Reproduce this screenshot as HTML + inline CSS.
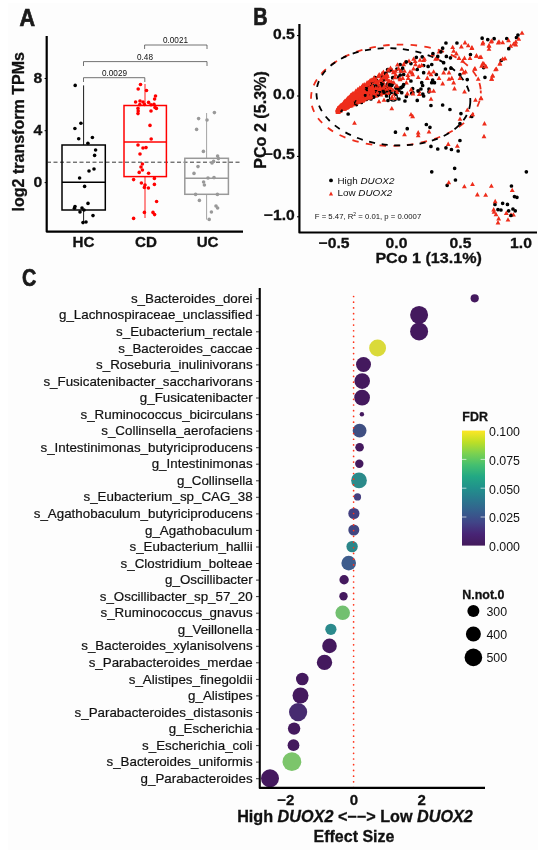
<!DOCTYPE html>
<html><head><meta charset="utf-8"><title>Figure</title>
<style>
html,body{margin:0;padding:0;background:#fff}
svg{display:block}
text{font-family:"Liberation Sans",Arial,Helvetica,sans-serif;fill:#111}
.lbl{fill:#1a1a1a;stroke:#1a1a1a;stroke-width:0.7px}
.tk{font-weight:bold;font-size:15.6px;fill:#111;stroke:#111;stroke-width:0.3px}
.sm{fill:#111}
.rw{font-size:13.35px;fill:#111;stroke:#111;stroke-width:0.2px}
</style></head><body>
<svg width="550" height="850" viewBox="0 0 550 850">
<rect width="550" height="850" fill="#fff"/>
<rect x="8" y="3" width="530" height="847" fill="#fdfdfd"/>
<g id="panelA">
<text x="19.4" y="25.6" style="font-size:23.5px" font-weight="bold" class="lbl" textLength="15.6" lengthAdjust="spacingAndGlyphs">A</text>
<path d="M46.7 36V231.6H243" fill="none" stroke="#000" stroke-width="2.2" stroke-linejoin="round"/>
<path d="M44.6 78.5H47" stroke="#000" stroke-width="1"/>
<text transform="translate(42.2 82.5) scale(1.07 1)" text-anchor="end" class="tk" style="font-size:14.7px">8</text>
<path d="M44.6 130.7H47" stroke="#000" stroke-width="1"/>
<text transform="translate(42.2 134.7) scale(1.07 1)" text-anchor="end" class="tk" style="font-size:14.7px">4</text>
<path d="M44.6 182.6H47" stroke="#000" stroke-width="1"/>
<text transform="translate(42.2 186.6) scale(1.07 1)" text-anchor="end" class="tk" style="font-size:14.7px">0</text>
<text transform="translate(24.1 131.8) rotate(-90)" text-anchor="middle" class="tk" style="font-size:16.05px">log2 transform TPMs</text>
<text transform="translate(83.5 247) scale(1.04 1)" text-anchor="middle" class="tk" style="font-size:14.6px">HC</text>
<text transform="translate(146 247) scale(1.04 1)" text-anchor="middle" class="tk" style="font-size:14.6px">CD</text>
<text transform="translate(207.6 247) scale(1.04 1)" text-anchor="middle" class="tk" style="font-size:14.6px">UC</text>
<path d="M47 162.2H241.5" stroke="#222" stroke-width="0.9" stroke-dasharray="4 2.5"/>
<path d="M83.6 85.4V145M83.6 210V222.5" stroke="#000" stroke-width="0.9" fill="none"/>
<rect x="62" y="145" width="43.3" height="65.0" fill="none" stroke="#000" stroke-width="1.5"/>
<path d="M62 182.3H105.3" stroke="#000" stroke-width="1.5"/>
<path d="M145 84V105.5M145 176.6V218" stroke="#f00" stroke-width="0.9" fill="none"/>
<rect x="124" y="105.5" width="42.4" height="71.1" fill="none" stroke="#f00" stroke-width="1.5"/>
<path d="M124 142H166.4" stroke="#f00" stroke-width="1.5"/>
<path d="M206.6 113V158.3M206.6 194.3V219.6" stroke="#999" stroke-width="0.9" fill="none"/>
<rect x="184.8" y="158.3" width="43.6" height="36.0" fill="none" stroke="#999" stroke-width="1.5"/>
<path d="M184.8 178.2H228.4" stroke="#999" stroke-width="1.5"/>
<g fill="none" stroke="#444" stroke-width="0.75">
<path d="M144.6 49V45H207V49"/>
<path d="M83.5 66V61.6H207V66"/>
<path d="M83.5 82V77.7H144.8V82"/>
</g>
<text x="175.5" y="42.8" text-anchor="middle" class="sm" style="font-size:8.2px">0.0021</text>
<text x="145" y="59.6" text-anchor="middle" class="sm" style="font-size:8.2px">0.48</text>
<text x="114.5" y="76" text-anchor="middle" class="sm" style="font-size:8.2px">0.0029</text>
<g fill="#000"><circle cx="75.2" cy="85.4" r="1.8"/><circle cx="80.9" cy="123.2" r="1.8"/><circle cx="74.9" cy="128.5" r="1.8"/><circle cx="78.7" cy="138.8" r="1.8"/><circle cx="92.4" cy="137.5" r="1.8"/><circle cx="87.9" cy="143.2" r="1.8"/><circle cx="95.6" cy="150" r="1.8"/><circle cx="94.6" cy="155.4" r="1.8"/><circle cx="94" cy="169" r="1.8"/><circle cx="89" cy="171" r="1.8"/><circle cx="79.6" cy="178" r="1.8"/><circle cx="84.6" cy="186.4" r="1.8"/><circle cx="88" cy="203.4" r="1.8"/><circle cx="75" cy="206.6" r="1.8"/><circle cx="74.4" cy="208.2" r="1.8"/><circle cx="82" cy="208" r="1.8"/><circle cx="80" cy="212" r="1.8"/><circle cx="84" cy="210" r="1.8"/><circle cx="93" cy="215.6" r="1.8"/><circle cx="83" cy="222.6" r="1.8"/><circle cx="86" cy="222" r="1.8"/></g>
<g fill="#f00"><circle cx="135.6" cy="102" r="1.8"/><circle cx="140" cy="101" r="1.8"/><circle cx="143" cy="102" r="1.8"/><circle cx="148.6" cy="102.4" r="1.8"/><circle cx="154" cy="104.4" r="1.8"/><circle cx="156.4" cy="108.4" r="1.8"/><circle cx="151" cy="111" r="1.8"/><circle cx="138" cy="108.4" r="1.8"/><circle cx="138" cy="113.6" r="1.8"/><circle cx="150" cy="125.4" r="1.8"/><circle cx="151.2" cy="139" r="1.8"/><circle cx="138" cy="145" r="1.8"/><circle cx="143" cy="148" r="1.8"/><circle cx="146" cy="147.6" r="1.8"/><circle cx="140" cy="154" r="1.8"/><circle cx="142.4" cy="164" r="1.8"/><circle cx="141" cy="167" r="1.8"/><circle cx="142.4" cy="170" r="1.8"/><circle cx="139.2" cy="172.4" r="1.8"/><circle cx="148.6" cy="173.2" r="1.8"/><circle cx="133.6" cy="179.6" r="1.8"/><circle cx="141.4" cy="183" r="1.8"/><circle cx="145" cy="185" r="1.8"/><circle cx="144.4" cy="187.4" r="1.8"/><circle cx="148.4" cy="188" r="1.8"/><circle cx="154.4" cy="178.4" r="1.8"/><circle cx="154.4" cy="184.4" r="1.8"/><circle cx="156.6" cy="201.5" r="1.8"/><circle cx="133.6" cy="218.4" r="1.8"/><circle cx="144.4" cy="212.4" r="1.8"/><circle cx="153" cy="212.4" r="1.8"/><circle cx="154.6" cy="214.6" r="1.8"/><circle cx="140.5" cy="84.5" r="1.8"/><circle cx="138.2" cy="89" r="1.8"/><circle cx="146.5" cy="90.5" r="1.8"/><circle cx="155.5" cy="96" r="1.8"/><circle cx="154.6" cy="99" r="1.8"/><circle cx="139.8" cy="104.6" r="1.8"/><circle cx="144.5" cy="104.5" r="1.8"/><circle cx="151" cy="104.8" r="1.8"/><circle cx="155" cy="107.5" r="1.8"/><circle cx="138.2" cy="111" r="1.8"/></g>
<g fill="#999"><circle cx="214.4" cy="112.6" r="1.8"/><circle cx="198.6" cy="118.6" r="1.8"/><circle cx="207" cy="120" r="1.8"/><circle cx="196.6" cy="129.4" r="1.8"/><circle cx="203.4" cy="151.4" r="1.8"/><circle cx="217.6" cy="156" r="1.8"/><circle cx="218.4" cy="158.6" r="1.8"/><circle cx="213.6" cy="161.4" r="1.8"/><circle cx="212" cy="163" r="1.8"/><circle cx="198" cy="166.6" r="1.8"/><circle cx="194" cy="173.4" r="1.8"/><circle cx="208" cy="178" r="1.8"/><circle cx="214" cy="177.6" r="1.8"/><circle cx="203.6" cy="182" r="1.8"/><circle cx="204.4" cy="185" r="1.8"/><circle cx="195.6" cy="194.4" r="1.8"/><circle cx="217.4" cy="194.4" r="1.8"/><circle cx="199.4" cy="200.4" r="1.8"/><circle cx="216" cy="206" r="1.8"/><circle cx="217.6" cy="208" r="1.8"/><circle cx="211.4" cy="212" r="1.8"/><circle cx="209.2" cy="219.4" r="1.8"/></g>
</g>
<g id="panelB">
<text x="253.2" y="24.5" style="font-size:23.5px" font-weight="bold" class="lbl" textLength="14.4" lengthAdjust="spacingAndGlyphs">B</text>
<path d="M299.4 24V232.5H537" fill="none" stroke="#000" stroke-width="2.2" stroke-linejoin="round"/>
<path d="M297 35.6H299.5" stroke="#000" stroke-width="1"/>
<text transform="translate(294.8 38.6) scale(1.07 1)" text-anchor="end" class="tk" style="font-size:14.7px">0.5</text>
<path d="M297 96H299.5" stroke="#000" stroke-width="1"/>
<text transform="translate(294.8 99.0) scale(1.07 1)" text-anchor="end" class="tk" style="font-size:14.7px">0.0</text>
<path d="M297 156.4H299.5" stroke="#000" stroke-width="1"/>
<text transform="translate(294.8 159.4) scale(1.07 1)" text-anchor="end" class="tk" style="font-size:14.7px">−0.5</text>
<path d="M297 216.8H299.5" stroke="#000" stroke-width="1"/>
<text transform="translate(294.8 219.8) scale(1.07 1)" text-anchor="end" class="tk" style="font-size:14.7px">−1.0</text>
<text transform="translate(334.0 247.6) scale(1.07 1)" text-anchor="middle" class="tk" style="font-size:14.7px">−0.5</text>
<text transform="translate(396.5 247.6) scale(1.07 1)" text-anchor="middle" class="tk" style="font-size:14.7px">0.0</text>
<text transform="translate(460.5 247.6) scale(1.07 1)" text-anchor="middle" class="tk" style="font-size:14.7px">0.5</text>
<text transform="translate(521.0 247.6) scale(1.07 1)" text-anchor="middle" class="tk" style="font-size:14.7px">1.0</text>
<text transform="translate(428.6 263.4) scale(1.05 1)" text-anchor="middle" class="tk" style="font-size:15.35px">PCo 1 (13.1%)</text>
<text transform="translate(266.3 120) rotate(-90)" text-anchor="middle" class="tk" style="font-size:16.1px">PCo 2 (5.3%)</text>
<ellipse cx="395.9" cy="95.2" rx="85.0" ry="50.5" transform="rotate(-3.2 395.9 95.2)" fill="none" stroke="#ee2d1b" stroke-width="1.8" stroke-dasharray="6.5 7.3" stroke-dashoffset="3.5"/>
<ellipse cx="393.4" cy="96.8" rx="77.1" ry="48.4" transform="rotate(4.6 393.4 96.8)" fill="none" stroke="#000" stroke-width="1.8" stroke-dasharray="6.1 6.6" stroke-dashoffset="0"/>
<path fill="#000" d="M372.4 92.8a1.85 1.85 0 1 0 3.7 0a1.85 1.85 0 1 0 -3.7 0ZM368.3 86.7a1.85 1.85 0 1 0 3.7 0a1.85 1.85 0 1 0 -3.7 0ZM492.3 38.7a1.85 1.85 0 1 0 3.7 0a1.85 1.85 0 1 0 -3.7 0ZM444.5 56.4a1.85 1.85 0 1 0 3.7 0a1.85 1.85 0 1 0 -3.7 0ZM360.8 97.6a1.85 1.85 0 1 0 3.7 0a1.85 1.85 0 1 0 -3.7 0ZM458.1 140.5a1.85 1.85 0 1 0 3.7 0a1.85 1.85 0 1 0 -3.7 0ZM399.1 87.7a1.85 1.85 0 1 0 3.7 0a1.85 1.85 0 1 0 -3.7 0ZM452.8 168.3a1.85 1.85 0 1 0 3.7 0a1.85 1.85 0 1 0 -3.7 0ZM369.1 99.0a1.85 1.85 0 1 0 3.7 0a1.85 1.85 0 1 0 -3.7 0ZM445.3 185.3a1.85 1.85 0 1 0 3.7 0a1.85 1.85 0 1 0 -3.7 0ZM429.9 82.7a1.85 1.85 0 1 0 3.7 0a1.85 1.85 0 1 0 -3.7 0ZM371.1 93.1a1.85 1.85 0 1 0 3.7 0a1.85 1.85 0 1 0 -3.7 0ZM370.3 82.5a1.85 1.85 0 1 0 3.7 0a1.85 1.85 0 1 0 -3.7 0ZM506.8 210.8a1.85 1.85 0 1 0 3.7 0a1.85 1.85 0 1 0 -3.7 0ZM359.6 102.5a1.85 1.85 0 1 0 3.7 0a1.85 1.85 0 1 0 -3.7 0ZM363.4 87.6a1.85 1.85 0 1 0 3.7 0a1.85 1.85 0 1 0 -3.7 0ZM426.3 66.4a1.85 1.85 0 1 0 3.7 0a1.85 1.85 0 1 0 -3.7 0ZM429.1 105.5a1.85 1.85 0 1 0 3.7 0a1.85 1.85 0 1 0 -3.7 0ZM468.6 54.5a1.85 1.85 0 1 0 3.7 0a1.85 1.85 0 1 0 -3.7 0ZM499.4 60.4a1.85 1.85 0 1 0 3.7 0a1.85 1.85 0 1 0 -3.7 0ZM458.1 74.5a1.85 1.85 0 1 0 3.7 0a1.85 1.85 0 1 0 -3.7 0ZM396.6 77.0a1.85 1.85 0 1 0 3.7 0a1.85 1.85 0 1 0 -3.7 0ZM421.8 72.7a1.85 1.85 0 1 0 3.7 0a1.85 1.85 0 1 0 -3.7 0ZM441.8 62.7a1.85 1.85 0 1 0 3.7 0a1.85 1.85 0 1 0 -3.7 0ZM411.0 92.6a1.85 1.85 0 1 0 3.7 0a1.85 1.85 0 1 0 -3.7 0ZM361.1 87.9a1.85 1.85 0 1 0 3.7 0a1.85 1.85 0 1 0 -3.7 0ZM424.5 124.5a1.85 1.85 0 1 0 3.7 0a1.85 1.85 0 1 0 -3.7 0ZM364.6 99.5a1.85 1.85 0 1 0 3.7 0a1.85 1.85 0 1 0 -3.7 0ZM364.5 96.0a1.85 1.85 0 1 0 3.7 0a1.85 1.85 0 1 0 -3.7 0ZM427.1 91.8a1.85 1.85 0 1 0 3.7 0a1.85 1.85 0 1 0 -3.7 0ZM387.9 84.1a1.85 1.85 0 1 0 3.7 0a1.85 1.85 0 1 0 -3.7 0ZM378.6 85.9a1.85 1.85 0 1 0 3.7 0a1.85 1.85 0 1 0 -3.7 0ZM366.0 90.3a1.85 1.85 0 1 0 3.7 0a1.85 1.85 0 1 0 -3.7 0ZM356.2 101.4a1.85 1.85 0 1 0 3.7 0a1.85 1.85 0 1 0 -3.7 0ZM459.1 113.6a1.85 1.85 0 1 0 3.7 0a1.85 1.85 0 1 0 -3.7 0ZM420.4 56.8a1.85 1.85 0 1 0 3.7 0a1.85 1.85 0 1 0 -3.7 0ZM379.9 76.4a1.85 1.85 0 1 0 3.7 0a1.85 1.85 0 1 0 -3.7 0ZM481.8 67.6a1.85 1.85 0 1 0 3.7 0a1.85 1.85 0 1 0 -3.7 0ZM458.1 123.6a1.85 1.85 0 1 0 3.7 0a1.85 1.85 0 1 0 -3.7 0Z"/>
<path fill="#ee2d1b" d="M381.8 94.8L384.3 90.4L386.7 94.8ZM473.1 101.8L475.5 97.4L477.9 101.8ZM347.0 100.1L349.5 95.7L351.9 100.1ZM349.3 104.8L351.8 100.4L354.2 104.8ZM344.3 109.5L346.8 105.1L349.2 109.5ZM360.1 102.6L362.5 98.2L365.0 102.6ZM348.5 99.3L351.0 94.9L353.4 99.3ZM346.7 100.2L349.1 95.8L351.6 100.2ZM410.2 76.3L412.7 71.9L415.1 76.3ZM343.0 108.6L345.4 104.2L347.9 108.6ZM356.9 96.2L359.4 91.8L361.8 96.2ZM381.6 101.8L384.0 97.4L386.4 101.8ZM386.5 83.8L388.9 79.3L391.4 83.8ZM356.2 103.1L358.7 98.7L361.1 103.1ZM370.6 82.9L373.1 78.4L375.5 82.9ZM366.5 89.0L369.0 84.6L371.4 89.0ZM383.5 80.5L386.0 76.1L388.4 80.5ZM365.7 84.2L368.2 79.8L370.6 84.2ZM338.5 109.0L340.9 104.6L343.4 109.0ZM401.2 66.3L403.6 61.9L406.1 66.3ZM435.1 60.6L437.6 56.1L440.0 60.6ZM339.6 107.3L342.1 102.9L344.5 107.3ZM356.6 99.5L359.1 95.1L361.5 99.5ZM497.4 65.4L499.8 61.0L502.2 65.4ZM341.2 104.8L343.6 100.4L346.1 104.8ZM355.2 91.5L357.6 87.1L360.1 91.5ZM341.6 107.3L344.1 102.9L346.5 107.3ZM347.7 106.1L350.1 101.7L352.6 106.1ZM413.1 66.3L415.5 61.9L417.9 66.3ZM382.9 94.0L385.3 89.6L387.8 94.0ZM349.1 100.7L351.6 96.3L354.0 100.7ZM379.1 91.3L381.6 86.8L384.0 91.3ZM360.5 94.8L363.0 90.4L365.4 94.8ZM338.9 108.1L341.4 103.6L343.8 108.1ZM481.4 65.4L483.8 61.0L486.2 65.4ZM486.6 50.8L489.0 46.4L491.4 50.8ZM354.3 101.3L356.8 96.9L359.2 101.3ZM374.0 84.1L376.4 79.7L378.9 84.1ZM421.2 62.0L423.7 57.6L426.1 62.0ZM371.9 79.6L374.3 75.2L376.8 79.6ZM339.5 106.9L342.0 102.5L344.4 106.9ZM500.2 44.3L502.7 39.9L505.1 44.3ZM350.3 106.2L352.7 101.8L355.2 106.2ZM358.7 100.6L361.1 96.2L363.6 100.6ZM373.9 92.8L376.4 88.4L378.8 92.8ZM451.2 84.5L453.6 80.1L456.1 84.5ZM361.0 89.9L363.5 85.5L365.9 89.9ZM358.2 101.1L360.6 96.7L363.1 101.1ZM376.6 103.3L379.0 98.9L381.4 103.3ZM416.5 92.9L418.9 88.5L421.4 92.9ZM346.2 104.0L348.6 99.6L351.1 104.0ZM348.8 102.4L351.3 97.9L353.7 102.4ZM369.0 88.0L371.5 83.6L373.9 88.0ZM358.5 90.8L361.0 86.3L363.4 90.8ZM353.6 103.2L356.1 98.7L358.5 103.2ZM389.4 85.2L391.9 80.8L394.3 85.2ZM453.9 55.4L456.4 51.0L458.8 55.4ZM386.8 72.3L389.3 67.9L391.7 72.3ZM337.7 109.0L340.1 104.6L342.6 109.0ZM384.7 80.7L387.1 76.3L389.6 80.7ZM452.1 90.5L454.5 86.1L456.9 90.5ZM367.4 82.8L369.9 78.4L372.3 82.8ZM358.8 97.1L361.2 92.7L363.7 97.1ZM490.1 77.8L492.5 73.4L494.9 77.8ZM365.7 84.4L368.2 80.0L370.6 84.4ZM479.2 67.8L481.6 63.4L484.1 67.8ZM361.1 91.7L363.5 87.2L366.0 91.7ZM340.1 106.8L342.6 102.4L345.0 106.8ZM469.4 50.0L471.8 45.6L474.2 50.0ZM369.8 89.0L372.2 84.5L374.7 89.0ZM386.4 72.0L388.8 67.6L391.3 72.0ZM357.5 96.6L360.0 92.2L362.4 96.6ZM411.2 60.8L413.6 56.4L416.1 60.8ZM416.7 67.9L419.2 63.5L421.6 67.9ZM340.4 108.2L342.8 103.8L345.3 108.2ZM359.9 95.0L362.4 90.6L364.8 95.0ZM336.9 113.0L339.3 108.6L341.8 113.0ZM359.8 96.8L362.3 92.4L364.7 96.8ZM440.2 85.4L442.7 81.0L445.1 85.4ZM343.2 107.8L345.6 103.4L348.1 107.8ZM370.1 92.3L372.6 87.9L375.0 92.3ZM360.9 96.5L363.4 92.1L365.8 96.5ZM357.6 89.9L360.0 85.5L362.5 89.9ZM359.8 88.2L362.3 83.8L364.7 88.2ZM462.6 44.5L465.0 40.1L467.4 44.5ZM397.3 80.3L399.8 75.9L402.2 80.3ZM346.3 101.7L348.7 97.3L351.2 101.7ZM460.2 62.8L462.7 58.4L465.1 62.8ZM402.1 136.3L404.5 131.9L406.9 136.3ZM486.6 47.8L489.0 43.4L491.4 47.8ZM347.2 106.9L349.7 102.5L352.1 106.9ZM449.4 80.0L451.8 75.6L454.2 80.0ZM381.8 78.1L384.3 73.7L386.7 78.1ZM381.0 74.3L383.5 69.9L385.9 74.3ZM377.8 92.1L380.2 87.7L382.7 92.1ZM336.6 113.0L339.0 108.6L341.5 113.0ZM378.4 86.1L380.8 81.7L383.3 86.1ZM357.4 96.7L359.8 92.3L362.3 96.7ZM375.9 77.9L378.4 73.5L380.8 77.9Z"/>
<path fill="#000" d="M420.8 85.5a1.85 1.85 0 1 0 3.7 0a1.85 1.85 0 1 0 -3.7 0ZM403.1 101.0a1.85 1.85 0 1 0 3.7 0a1.85 1.85 0 1 0 -3.7 0ZM373.6 86.8a1.85 1.85 0 1 0 3.7 0a1.85 1.85 0 1 0 -3.7 0ZM409.1 63.6a1.85 1.85 0 1 0 3.7 0a1.85 1.85 0 1 0 -3.7 0ZM440.8 48.2a1.85 1.85 0 1 0 3.7 0a1.85 1.85 0 1 0 -3.7 0ZM509.6 186.0a1.85 1.85 0 1 0 3.7 0a1.85 1.85 0 1 0 -3.7 0ZM359.4 98.2a1.85 1.85 0 1 0 3.7 0a1.85 1.85 0 1 0 -3.7 0ZM354.6 104.6a1.85 1.85 0 1 0 3.7 0a1.85 1.85 0 1 0 -3.7 0ZM485.9 39.6a1.85 1.85 0 1 0 3.7 0a1.85 1.85 0 1 0 -3.7 0ZM444.1 43.0a1.85 1.85 0 1 0 3.7 0a1.85 1.85 0 1 0 -3.7 0ZM397.1 90.4a1.85 1.85 0 1 0 3.7 0a1.85 1.85 0 1 0 -3.7 0ZM428.1 127.3a1.85 1.85 0 1 0 3.7 0a1.85 1.85 0 1 0 -3.7 0ZM401.8 74.5a1.85 1.85 0 1 0 3.7 0a1.85 1.85 0 1 0 -3.7 0ZM399.9 92.7a1.85 1.85 0 1 0 3.7 0a1.85 1.85 0 1 0 -3.7 0ZM371.5 83.1a1.85 1.85 0 1 0 3.7 0a1.85 1.85 0 1 0 -3.7 0ZM385.5 84.2a1.85 1.85 0 1 0 3.7 0a1.85 1.85 0 1 0 -3.7 0ZM395.0 69.1a1.85 1.85 0 1 0 3.7 0a1.85 1.85 0 1 0 -3.7 0ZM373.4 77.6a1.85 1.85 0 1 0 3.7 0a1.85 1.85 0 1 0 -3.7 0ZM524.5 171.8a1.85 1.85 0 1 0 3.7 0a1.85 1.85 0 1 0 -3.7 0ZM375.6 95.5a1.85 1.85 0 1 0 3.7 0a1.85 1.85 0 1 0 -3.7 0ZM449.1 68.2a1.85 1.85 0 1 0 3.7 0a1.85 1.85 0 1 0 -3.7 0ZM400.8 68.2a1.85 1.85 0 1 0 3.7 0a1.85 1.85 0 1 0 -3.7 0ZM499.1 210.0a1.85 1.85 0 1 0 3.7 0a1.85 1.85 0 1 0 -3.7 0ZM389.1 92.0a1.85 1.85 0 1 0 3.7 0a1.85 1.85 0 1 0 -3.7 0ZM387.4 88.9a1.85 1.85 0 1 0 3.7 0a1.85 1.85 0 1 0 -3.7 0ZM390.9 83.4a1.85 1.85 0 1 0 3.7 0a1.85 1.85 0 1 0 -3.7 0ZM370.1 85.1a1.85 1.85 0 1 0 3.7 0a1.85 1.85 0 1 0 -3.7 0ZM379.5 82.1a1.85 1.85 0 1 0 3.7 0a1.85 1.85 0 1 0 -3.7 0ZM386.1 100.5a1.85 1.85 0 1 0 3.7 0a1.85 1.85 0 1 0 -3.7 0ZM511.1 209.0a1.85 1.85 0 1 0 3.7 0a1.85 1.85 0 1 0 -3.7 0ZM379.1 93.5a1.85 1.85 0 1 0 3.7 0a1.85 1.85 0 1 0 -3.7 0Z"/>
<path fill="#ee2d1b" d="M345.4 100.2L347.9 95.8L350.3 100.2ZM489.1 80.8L491.5 76.4L493.9 80.8ZM355.6 99.4L358.0 95.0L360.5 99.4ZM462.1 60.0L464.5 55.6L466.9 60.0ZM345.9 105.7L348.3 101.2L350.8 105.7ZM350.1 101.4L352.5 97.0L355.0 101.4ZM350.6 104.7L353.1 100.3L355.5 104.7ZM353.7 94.9L356.2 90.5L358.6 94.9ZM348.6 107.4L351.1 102.9L353.5 107.4ZM351.4 96.0L353.9 91.6L356.3 96.0ZM338.2 110.6L340.6 106.2L343.1 110.6ZM386.5 83.6L388.9 79.1L391.4 83.6ZM338.0 112.6L340.4 108.2L342.9 112.6ZM362.5 90.6L365.0 86.2L367.4 90.6ZM351.7 97.1L354.2 92.7L356.6 97.1ZM386.4 89.5L388.9 85.1L391.3 89.5ZM480.2 65.4L482.7 61.0L485.1 65.4ZM352.7 96.6L355.2 92.2L357.6 96.6ZM336.8 109.5L339.2 105.1L341.7 109.5ZM342.9 109.4L345.3 105.0L347.8 109.4ZM342.8 104.5L345.3 100.1L347.7 104.5ZM360.4 98.2L362.8 93.8L365.3 98.2ZM358.6 93.8L361.0 89.4L363.5 93.8ZM465.8 47.3L468.2 42.9L470.6 47.3ZM349.1 103.5L351.6 99.1L354.0 103.5ZM361.2 88.4L363.6 84.0L366.1 88.4ZM347.1 105.3L349.5 100.9L352.0 105.3ZM360.2 88.1L362.6 83.7L365.1 88.1ZM408.6 116.3L411.0 111.9L413.4 116.3ZM344.6 101.4L347.0 97.0L349.5 101.4ZM336.3 111.1L338.7 106.7L341.2 111.1ZM344.6 107.4L347.1 103.0L349.5 107.4ZM338.7 107.6L341.2 103.2L343.6 107.6ZM348.8 104.5L351.2 100.1L353.7 104.5ZM360.1 88.9L362.6 84.5L365.0 88.9ZM384.0 81.4L386.4 77.0L388.9 81.4ZM378.4 96.6L380.8 92.2L383.3 96.6ZM342.0 110.7L344.4 106.3L346.9 110.7ZM358.5 99.9L361.0 95.4L363.4 99.9ZM341.8 110.4L344.2 106.0L346.7 110.4ZM346.2 104.3L348.6 99.9L351.1 104.3ZM365.6 89.0L368.1 84.6L370.5 89.0ZM373.8 80.9L376.2 76.5L378.7 80.9ZM384.9 89.2L387.4 84.8L389.8 89.2ZM360.8 100.6L363.3 96.2L365.7 100.6ZM371.1 95.4L373.6 91.0L376.0 95.4ZM366.8 84.9L369.3 80.5L371.7 84.9ZM457.6 120.8L460.0 116.4L462.4 120.8ZM350.8 99.5L353.2 95.1L355.7 99.5ZM379.9 91.2L382.3 86.8L384.8 91.2ZM346.8 100.6L349.3 96.2L351.7 100.6ZM335.7 113.6L338.2 109.2L340.6 113.6ZM337.3 110.7L339.8 106.3L342.2 110.7ZM361.5 95.7L364.0 91.3L366.4 95.7ZM349.5 100.5L352.0 96.0L354.4 100.5ZM347.6 103.0L350.0 98.6L352.5 103.0ZM344.3 101.6L346.7 97.2L349.2 101.6ZM373.3 92.1L375.8 87.7L378.2 92.1ZM351.6 98.7L354.1 94.3L356.5 98.7ZM433.1 60.8L435.5 56.4L437.9 60.8ZM381.7 94.8L384.2 90.4L386.6 94.8ZM360.7 96.9L363.1 92.5L365.6 96.9ZM347.2 106.5L349.7 102.1L352.1 106.5ZM345.9 104.0L348.3 99.6L350.8 104.0ZM350.4 101.7L352.9 97.3L355.3 101.7ZM379.9 95.0L382.4 90.6L384.8 95.0ZM347.3 98.9L349.8 94.5L352.2 98.9ZM346.9 105.8L349.3 101.4L351.8 105.8ZM344.7 107.5L347.1 103.1L349.6 107.5ZM349.7 104.2L352.1 99.8L354.6 104.2ZM496.2 220.4L498.7 216.0L501.1 220.4ZM403.9 84.5L406.4 80.1L408.8 84.5ZM356.5 99.8L358.9 95.4L361.4 99.8ZM353.1 103.2L355.6 98.8L358.0 103.2ZM411.1 70.6L413.5 66.2L416.0 70.6ZM381.0 84.4L383.4 80.0L385.9 84.4ZM347.9 100.2L350.4 95.8L352.8 100.2ZM338.6 109.3L341.0 104.9L343.5 109.3ZM493.6 216.2L496.0 211.8L498.4 216.2ZM416.9 96.1L419.3 91.7L421.8 96.1ZM493.1 71.3L495.5 66.9L497.9 71.3ZM335.4 113.8L337.9 109.4L340.3 113.8ZM457.6 80.0L460.0 75.6L462.4 80.0ZM385.8 90.5L388.3 86.1L390.7 90.5ZM346.5 101.6L349.0 97.2L351.4 101.6ZM348.2 104.5L350.6 100.1L353.1 104.5ZM374.2 83.9L376.6 79.5L379.1 83.9ZM422.1 60.8L424.5 56.4L426.9 60.8ZM337.1 110.6L339.6 106.2L342.0 110.6ZM508.2 47.8L510.7 43.4L513.1 47.8ZM336.5 111.1L338.9 106.7L341.4 111.1ZM509.8 192.1L512.2 187.7L514.7 192.1ZM335.4 110.5L337.8 106.1L340.3 110.5ZM450.2 49.1L452.7 44.7L455.1 49.1ZM364.4 95.4L366.8 91.0L369.3 95.4ZM357.5 101.5L360.0 97.1L362.4 101.5ZM519.5 34.8L522.0 30.4L524.5 34.8ZM389.6 98.8L392.0 94.4L394.4 98.8ZM347.8 98.2L350.3 93.8L352.7 98.2ZM426.6 74.5L429.0 70.1L431.4 74.5ZM346.5 105.6L349.0 101.2L351.4 105.6ZM347.6 98.7L350.1 94.3L352.5 98.7ZM335.5 111.1L337.9 106.7L340.4 111.1ZM344.8 101.2L347.2 96.8L349.7 101.2ZM456.6 60.0L459.0 55.6L461.4 60.0ZM343.0 104.4L345.5 100.0L347.9 104.4ZM339.3 108.4L341.8 103.9L344.2 108.4Z"/>
<path fill="#000" d="M443.6 69.0a1.85 1.85 0 1 0 3.7 0a1.85 1.85 0 1 0 -3.7 0ZM362.2 94.6a1.85 1.85 0 1 0 3.7 0a1.85 1.85 0 1 0 -3.7 0ZM404.5 96.4a1.85 1.85 0 1 0 3.7 0a1.85 1.85 0 1 0 -3.7 0ZM435.9 56.4a1.85 1.85 0 1 0 3.7 0a1.85 1.85 0 1 0 -3.7 0ZM399.1 70.9a1.85 1.85 0 1 0 3.7 0a1.85 1.85 0 1 0 -3.7 0ZM377.8 86.0a1.85 1.85 0 1 0 3.7 0a1.85 1.85 0 1 0 -3.7 0ZM429.9 171.8a1.85 1.85 0 1 0 3.7 0a1.85 1.85 0 1 0 -3.7 0ZM367.0 91.3a1.85 1.85 0 1 0 3.7 0a1.85 1.85 0 1 0 -3.7 0ZM380.5 84.6a1.85 1.85 0 1 0 3.7 0a1.85 1.85 0 1 0 -3.7 0ZM372.4 78.8a1.85 1.85 0 1 0 3.7 0a1.85 1.85 0 1 0 -3.7 0ZM386.5 70.2a1.85 1.85 0 1 0 3.7 0a1.85 1.85 0 1 0 -3.7 0ZM377.9 87.8a1.85 1.85 0 1 0 3.7 0a1.85 1.85 0 1 0 -3.7 0ZM430.8 80.0a1.85 1.85 0 1 0 3.7 0a1.85 1.85 0 1 0 -3.7 0ZM480.3 38.2a1.85 1.85 0 1 0 3.7 0a1.85 1.85 0 1 0 -3.7 0ZM448.1 109.5a1.85 1.85 0 1 0 3.7 0a1.85 1.85 0 1 0 -3.7 0ZM506.9 48.7a1.85 1.85 0 1 0 3.7 0a1.85 1.85 0 1 0 -3.7 0ZM513.4 210.8a1.85 1.85 0 1 0 3.7 0a1.85 1.85 0 1 0 -3.7 0ZM388.5 91.4a1.85 1.85 0 1 0 3.7 0a1.85 1.85 0 1 0 -3.7 0ZM384.1 87.1a1.85 1.85 0 1 0 3.7 0a1.85 1.85 0 1 0 -3.7 0ZM515.1 197.3a1.85 1.85 0 1 0 3.7 0a1.85 1.85 0 1 0 -3.7 0ZM359.8 101.0a1.85 1.85 0 1 0 3.7 0a1.85 1.85 0 1 0 -3.7 0ZM382.2 92.2a1.85 1.85 0 1 0 3.7 0a1.85 1.85 0 1 0 -3.7 0ZM421.8 65.5a1.85 1.85 0 1 0 3.7 0a1.85 1.85 0 1 0 -3.7 0ZM370.9 92.2a1.85 1.85 0 1 0 3.7 0a1.85 1.85 0 1 0 -3.7 0ZM381.4 79.7a1.85 1.85 0 1 0 3.7 0a1.85 1.85 0 1 0 -3.7 0ZM359.8 92.1a1.85 1.85 0 1 0 3.7 0a1.85 1.85 0 1 0 -3.7 0ZM456.3 151.0a1.85 1.85 0 1 0 3.7 0a1.85 1.85 0 1 0 -3.7 0ZM453.6 180.0a1.85 1.85 0 1 0 3.7 0a1.85 1.85 0 1 0 -3.7 0ZM365.3 98.1a1.85 1.85 0 1 0 3.7 0a1.85 1.85 0 1 0 -3.7 0ZM374.9 80.5a1.85 1.85 0 1 0 3.7 0a1.85 1.85 0 1 0 -3.7 0ZM469.9 116.4a1.85 1.85 0 1 0 3.7 0a1.85 1.85 0 1 0 -3.7 0ZM514.6 37.5a1.85 1.85 0 1 0 3.7 0a1.85 1.85 0 1 0 -3.7 0ZM435.9 149.0a1.85 1.85 0 1 0 3.7 0a1.85 1.85 0 1 0 -3.7 0ZM415.4 69.5a1.85 1.85 0 1 0 3.7 0a1.85 1.85 0 1 0 -3.7 0ZM369.8 81.1a1.85 1.85 0 1 0 3.7 0a1.85 1.85 0 1 0 -3.7 0ZM440.8 105.0a1.85 1.85 0 1 0 3.7 0a1.85 1.85 0 1 0 -3.7 0ZM364.0 96.7a1.85 1.85 0 1 0 3.7 0a1.85 1.85 0 1 0 -3.7 0ZM380.7 86.7a1.85 1.85 0 1 0 3.7 0a1.85 1.85 0 1 0 -3.7 0ZM414.5 57.3a1.85 1.85 0 1 0 3.7 0a1.85 1.85 0 1 0 -3.7 0Z"/>
<path fill="#ee2d1b" d="M347.5 99.9L349.9 95.5L352.4 99.9ZM402.6 64.2L405.1 59.8L407.5 64.2ZM398.3 72.8L400.8 68.4L403.2 72.8ZM350.1 99.0L352.5 94.6L355.0 99.0ZM371.4 82.4L373.8 78.0L376.3 82.4ZM357.6 101.4L360.0 96.9L362.5 101.4ZM390.6 91.8L393.0 87.4L395.4 91.8ZM405.4 77.1L407.9 72.7L410.3 77.1ZM340.1 111.0L342.5 106.6L345.0 111.0ZM337.5 108.2L339.9 103.8L342.4 108.2ZM451.2 52.8L453.6 48.4L456.1 52.8ZM394.8 91.3L397.3 86.9L399.7 91.3ZM436.6 80.0L439.0 75.6L441.4 80.0ZM352.9 100.0L355.3 95.6L357.8 100.0ZM345.8 104.7L348.2 100.3L350.7 104.7ZM348.8 96.8L351.3 92.4L353.7 96.8ZM360.6 87.5L363.1 83.1L365.5 87.5ZM337.8 108.6L340.3 104.2L342.7 108.6ZM349.6 96.8L352.0 92.4L354.5 96.8ZM338.2 110.0L340.7 105.6L343.1 110.0ZM336.3 111.0L338.7 106.6L341.2 111.0ZM356.2 103.5L358.6 99.1L361.1 103.5ZM352.4 96.9L354.8 92.5L357.3 96.9ZM377.0 78.2L379.4 73.8L381.9 78.2ZM480.6 44.3L483.0 39.9L485.4 44.3ZM351.2 105.8L353.6 101.4L356.1 105.8ZM347.3 103.1L349.7 98.7L352.2 103.1ZM493.9 70.8L496.4 66.4L498.8 70.8ZM354.4 96.2L356.8 91.8L359.3 96.2ZM368.6 93.1L371.1 88.6L373.5 93.1ZM446.6 80.8L449.0 76.4L451.4 80.8ZM357.5 90.0L359.9 85.6L362.4 90.0ZM375.5 83.6L378.0 79.2L380.4 83.6ZM490.2 77.3L492.7 72.9L495.1 77.3ZM346.9 102.8L349.3 98.4L351.8 102.8ZM347.4 107.0L349.9 102.6L352.3 107.0ZM491.2 211.4L493.7 207.0L496.1 211.4ZM348.3 102.4L350.8 98.0L353.2 102.4ZM478.6 99.8L481.0 95.4L483.4 99.8ZM372.2 97.6L374.6 93.2L377.1 97.6ZM360.4 89.3L362.8 84.9L365.3 89.3ZM436.6 53.6L439.0 49.2L441.4 53.6ZM370.0 89.1L372.5 84.7L374.9 89.1ZM360.7 96.4L363.2 92.0L365.6 96.4ZM350.8 97.0L353.3 92.6L355.7 97.0ZM350.6 98.2L353.1 93.8L355.5 98.2ZM359.1 89.7L361.6 85.3L364.0 89.7ZM369.8 87.9L372.3 83.5L374.7 87.9ZM491.6 213.8L494.0 209.4L496.4 213.8ZM346.4 102.2L348.9 97.8L351.3 102.2ZM359.3 101.9L361.7 97.5L364.2 101.9ZM347.7 101.0L350.2 96.6L352.6 101.0ZM335.0 111.7L337.5 107.3L339.9 111.7ZM349.2 98.7L351.7 94.3L354.1 98.7ZM335.5 110.3L338.0 105.8L340.4 110.3ZM385.4 84.8L387.9 80.4L390.3 84.8ZM352.9 105.0L355.4 100.6L357.8 105.0ZM361.5 100.6L364.0 96.2L366.4 100.6ZM505.6 221.6L508.0 217.2L510.4 221.6ZM359.7 95.0L362.1 90.6L364.6 95.0ZM336.7 109.4L339.1 105.0L341.6 109.4ZM375.2 90.2L377.6 85.8L380.1 90.2ZM347.8 101.7L350.2 97.3L352.7 101.7ZM335.2 111.7L337.6 107.3L340.1 111.7ZM495.8 44.5L498.2 40.1L500.6 44.5ZM357.9 97.9L360.4 93.5L362.8 97.9ZM391.0 74.2L393.4 69.7L395.9 74.2ZM489.4 42.8L491.8 38.4L494.2 42.8ZM391.3 84.4L393.8 80.0L396.2 84.4ZM347.7 107.3L350.2 102.9L352.6 107.3ZM338.6 109.0L341.1 104.6L343.5 109.0ZM347.5 100.8L350.0 96.4L352.4 100.8ZM370.2 90.3L372.6 85.9L375.1 90.3ZM371.6 79.7L374.1 75.3L376.5 79.7ZM489.4 80.8L491.8 76.4L494.2 80.8ZM502.6 60.3L505.0 55.9L507.4 60.3ZM349.5 97.3L352.0 92.8L354.4 97.3ZM378.6 81.0L381.1 76.6L383.5 81.0ZM475.8 80.8L478.2 76.4L480.6 80.8ZM393.0 72.8L395.4 68.4L397.9 72.8ZM500.2 60.8L502.7 56.4L505.1 60.8ZM344.8 104.4L347.3 99.9L349.7 104.4ZM375.3 86.1L377.7 81.6L380.2 86.1ZM376.1 86.6L378.6 82.2L381.0 86.6ZM360.7 90.3L363.1 85.9L365.6 90.3ZM428.6 76.3L431.0 71.9L433.4 76.3ZM458.9 48.5L461.3 44.1L463.8 48.5ZM348.6 101.5L351.0 97.1L353.5 101.5ZM351.0 95.8L353.5 91.3L355.9 95.8ZM430.2 56.3L432.7 51.9L435.1 56.3ZM358.1 92.4L360.5 88.0L363.0 92.4ZM486.6 47.3L489.0 42.9L491.4 47.3ZM340.7 107.1L343.2 102.7L345.6 107.1ZM372.3 83.1L374.7 78.7L377.2 83.1ZM371.9 81.9L374.3 77.4L376.8 81.9ZM338.5 108.0L341.0 103.6L343.4 108.0ZM513.3 46.5L515.8 42.1L518.2 46.5ZM352.2 101.2L354.7 96.8L357.1 101.2ZM345.0 108.8L347.4 104.4L349.9 108.8Z"/>
<path fill="#000" d="M366.0 98.2a1.85 1.85 0 1 0 3.7 0a1.85 1.85 0 1 0 -3.7 0ZM381.1 87.1a1.85 1.85 0 1 0 3.7 0a1.85 1.85 0 1 0 -3.7 0ZM448.6 57.8a1.85 1.85 0 1 0 3.7 0a1.85 1.85 0 1 0 -3.7 0ZM357.9 101.9a1.85 1.85 0 1 0 3.7 0a1.85 1.85 0 1 0 -3.7 0ZM359.5 97.4a1.85 1.85 0 1 0 3.7 0a1.85 1.85 0 1 0 -3.7 0ZM379.4 87.3a1.85 1.85 0 1 0 3.7 0a1.85 1.85 0 1 0 -3.7 0ZM421.0 94.1a1.85 1.85 0 1 0 3.7 0a1.85 1.85 0 1 0 -3.7 0ZM505.6 204.4a1.85 1.85 0 1 0 3.7 0a1.85 1.85 0 1 0 -3.7 0ZM372.5 92.6a1.85 1.85 0 1 0 3.7 0a1.85 1.85 0 1 0 -3.7 0ZM371.2 94.1a1.85 1.85 0 1 0 3.7 0a1.85 1.85 0 1 0 -3.7 0ZM399.3 87.6a1.85 1.85 0 1 0 3.7 0a1.85 1.85 0 1 0 -3.7 0ZM358.3 99.5a1.85 1.85 0 1 0 3.7 0a1.85 1.85 0 1 0 -3.7 0ZM409.9 93.3a1.85 1.85 0 1 0 3.7 0a1.85 1.85 0 1 0 -3.7 0ZM371.2 82.0a1.85 1.85 0 1 0 3.7 0a1.85 1.85 0 1 0 -3.7 0ZM393.8 91.8a1.85 1.85 0 1 0 3.7 0a1.85 1.85 0 1 0 -3.7 0ZM493.1 204.4a1.85 1.85 0 1 0 3.7 0a1.85 1.85 0 1 0 -3.7 0ZM371.6 90.7a1.85 1.85 0 1 0 3.7 0a1.85 1.85 0 1 0 -3.7 0ZM352.4 103.0a1.85 1.85 0 1 0 3.7 0a1.85 1.85 0 1 0 -3.7 0ZM421.8 96.0a1.85 1.85 0 1 0 3.7 0a1.85 1.85 0 1 0 -3.7 0ZM409.1 81.0a1.85 1.85 0 1 0 3.7 0a1.85 1.85 0 1 0 -3.7 0ZM393.8 94.2a1.85 1.85 0 1 0 3.7 0a1.85 1.85 0 1 0 -3.7 0ZM386.2 84.2a1.85 1.85 0 1 0 3.7 0a1.85 1.85 0 1 0 -3.7 0ZM449.6 149.5a1.85 1.85 0 1 0 3.7 0a1.85 1.85 0 1 0 -3.7 0ZM416.2 90.8a1.85 1.85 0 1 0 3.7 0a1.85 1.85 0 1 0 -3.7 0ZM444.1 147.8a1.85 1.85 0 1 0 3.7 0a1.85 1.85 0 1 0 -3.7 0ZM398.4 75.0a1.85 1.85 0 1 0 3.7 0a1.85 1.85 0 1 0 -3.7 0ZM361.9 96.4a1.85 1.85 0 1 0 3.7 0a1.85 1.85 0 1 0 -3.7 0ZM496.1 209.6a1.85 1.85 0 1 0 3.7 0a1.85 1.85 0 1 0 -3.7 0Z"/>
<path fill="#ee2d1b" d="M368.8 91.2L371.3 86.8L373.7 91.2ZM346.6 99.9L349.0 95.5L351.5 99.9ZM510.9 216.6L513.4 212.2L515.9 216.6ZM360.0 97.0L362.5 92.6L364.9 97.0ZM428.6 100.8L431.0 96.4L433.4 100.8ZM366.9 94.3L369.4 89.9L371.8 94.3ZM338.6 107.9L341.0 103.4L343.5 107.9ZM346.3 103.6L348.8 99.2L351.2 103.6ZM339.3 110.8L341.7 106.4L344.2 110.8ZM353.9 101.1L356.4 96.7L358.8 101.1ZM363.6 100.6L366.0 96.2L368.5 100.6ZM393.6 88.0L396.1 83.6L398.5 88.0ZM404.9 95.4L407.3 91.0L409.8 95.4ZM426.6 133.6L429.0 129.2L431.4 133.6ZM346.1 100.0L348.6 95.6L351.0 100.0ZM359.7 98.3L362.2 93.9L364.6 98.3ZM483.2 196.8L485.7 192.4L488.1 196.8ZM360.3 87.4L362.7 83.0L365.2 87.4ZM386.7 86.9L389.1 82.5L391.6 86.9ZM353.2 101.5L355.7 97.1L358.1 101.5ZM358.0 102.7L360.4 98.3L362.9 102.7ZM361.8 86.5L364.2 82.1L366.7 86.5ZM407.6 73.6L410.0 69.2L412.4 73.6ZM359.7 94.8L362.1 90.3L364.6 94.8ZM351.4 96.7L353.8 92.3L356.3 96.7ZM337.0 109.5L339.4 105.1L341.9 109.5ZM337.0 111.0L339.4 106.6L341.9 111.0ZM339.1 107.9L341.5 103.5L344.0 107.9ZM360.8 96.6L363.3 92.2L365.7 96.6ZM410.5 95.5L412.9 91.1L415.4 95.5ZM374.1 86.5L376.6 82.1L379.0 86.5ZM373.6 97.6L376.1 93.2L378.5 97.6ZM368.0 82.3L370.4 77.9L372.9 82.3ZM346.4 107.8L348.9 103.4L351.3 107.8ZM394.0 91.2L396.4 86.7L398.9 91.2ZM461.9 188.3L464.4 183.9L466.8 188.3ZM348.2 101.0L350.7 96.6L353.1 101.0ZM339.8 107.0L342.2 102.6L344.7 107.0ZM343.8 105.8L346.3 101.4L348.7 105.8ZM397.7 81.3L400.2 76.9L402.6 81.3ZM497.6 65.4L500.0 61.0L502.4 65.4ZM361.0 90.1L363.4 85.7L365.9 90.1ZM380.9 74.0L383.4 69.6L385.8 74.0ZM357.5 95.3L360.0 90.9L362.4 95.3ZM446.4 184.3L448.8 179.9L451.2 184.3ZM337.0 112.1L339.5 107.7L341.9 112.1ZM343.5 106.6L346.0 102.2L348.4 106.6ZM346.9 99.5L349.3 95.1L351.8 99.5ZM415.8 79.1L418.2 74.7L420.6 79.1ZM338.6 107.0L341.1 102.6L343.5 107.0ZM467.6 60.0L470.0 55.6L472.4 60.0ZM360.6 102.1L363.1 97.7L365.5 102.1ZM342.4 105.7L344.9 101.3L347.3 105.7ZM371.8 95.6L374.3 91.2L376.7 95.6ZM381.3 91.4L383.8 87.0L386.2 91.4ZM516.2 40.8L518.7 36.4L521.2 40.8ZM386.0 87.1L388.5 82.7L390.9 87.1ZM396.1 70.5L398.6 66.1L401.0 70.5ZM406.6 62.8L409.0 58.4L411.4 62.8ZM341.0 110.1L343.5 105.7L345.9 110.1ZM361.2 101.3L363.7 96.8L366.1 101.3ZM358.2 93.8L360.6 89.4L363.1 93.8ZM369.6 93.5L372.1 89.1L374.5 93.5ZM385.9 86.0L388.4 81.6L390.8 86.0ZM349.6 102.6L352.1 98.2L354.5 102.6ZM360.1 101.1L362.5 96.7L365.0 101.1ZM482.1 125.4L484.5 121.0L486.9 125.4ZM370.3 94.2L372.7 89.8L375.2 94.2ZM365.5 85.5L368.0 81.1L370.4 85.5ZM472.6 70.5L475.0 66.1L477.4 70.5ZM360.9 93.0L363.3 88.6L365.8 93.0ZM346.3 107.4L348.7 103.0L351.2 107.4ZM350.5 95.4L352.9 91.0L355.4 95.4ZM348.8 105.2L351.3 100.8L353.7 105.2ZM342.5 103.1L344.9 98.7L347.4 103.1ZM446.6 74.5L449.0 70.1L451.4 74.5ZM470.1 186.1L472.5 181.7L474.9 186.1ZM352.3 103.6L354.8 99.2L357.2 103.6ZM350.7 99.2L353.1 94.8L355.6 99.2ZM341.5 105.1L344.0 100.7L346.4 105.1ZM356.1 91.5L358.5 87.1L361.0 91.5ZM379.4 75.7L381.8 71.3L384.3 75.7ZM341.8 110.4L344.3 106.0L346.7 110.4ZM361.2 90.8L363.6 86.4L366.1 90.8ZM360.5 91.0L363.0 86.6L365.4 91.0ZM477.6 59.1L480.0 54.7L482.4 59.1ZM361.1 95.8L363.6 91.4L366.0 95.8ZM353.7 95.5L356.1 91.1L358.6 95.5ZM350.4 101.6L352.8 97.2L355.3 101.6ZM389.5 72.0L392.0 67.5L394.4 72.0ZM338.7 107.4L341.1 103.0L343.6 107.4ZM346.0 107.9L348.4 103.5L350.9 107.9ZM424.9 80.0L427.3 75.6L429.8 80.0ZM405.8 80.0L408.2 75.6L410.6 80.0ZM343.0 109.8L345.5 105.4L347.9 109.8ZM359.7 101.9L362.2 97.4L364.6 101.9ZM384.9 78.0L387.3 73.6L389.8 78.0ZM349.2 105.7L351.7 101.3L354.1 105.7ZM388.5 89.8L391.0 85.3L393.4 89.8ZM389.1 83.7L391.5 79.3L394.0 83.7ZM365.4 87.7L367.8 83.3L370.3 87.7ZM343.4 109.3L345.8 104.9L348.3 109.3ZM341.0 110.7L343.4 106.3L345.9 110.7ZM419.3 67.1L421.7 62.7L424.2 67.1ZM361.2 94.4L363.6 90.0L366.1 94.4ZM367.8 96.6L370.3 92.2L372.7 96.6ZM358.5 100.1L360.9 95.7L363.4 100.1ZM353.4 104.4L355.9 100.0L358.3 104.4ZM348.2 99.0L350.7 94.6L353.1 99.0ZM338.1 110.9L340.5 106.5L343.0 110.9Z"/>
<path fill="#000" d="M383.9 73.4a1.85 1.85 0 1 0 3.7 0a1.85 1.85 0 1 0 -3.7 0ZM366.2 88.2a1.85 1.85 0 1 0 3.7 0a1.85 1.85 0 1 0 -3.7 0ZM346.3 114.0a1.85 1.85 0 1 0 3.7 0a1.85 1.85 0 1 0 -3.7 0ZM387.5 70.7a1.85 1.85 0 1 0 3.7 0a1.85 1.85 0 1 0 -3.7 0ZM465.4 79.6a1.85 1.85 0 1 0 3.7 0a1.85 1.85 0 1 0 -3.7 0ZM390.0 85.3a1.85 1.85 0 1 0 3.7 0a1.85 1.85 0 1 0 -3.7 0ZM359.4 99.2a1.85 1.85 0 1 0 3.7 0a1.85 1.85 0 1 0 -3.7 0ZM369.3 95.1a1.85 1.85 0 1 0 3.7 0a1.85 1.85 0 1 0 -3.7 0ZM388.8 69.5a1.85 1.85 0 1 0 3.7 0a1.85 1.85 0 1 0 -3.7 0ZM352.8 102.4a1.85 1.85 0 1 0 3.7 0a1.85 1.85 0 1 0 -3.7 0ZM432.6 82.7a1.85 1.85 0 1 0 3.7 0a1.85 1.85 0 1 0 -3.7 0ZM405.4 128.7a1.85 1.85 0 1 0 3.7 0a1.85 1.85 0 1 0 -3.7 0ZM384.7 95.9a1.85 1.85 0 1 0 3.7 0a1.85 1.85 0 1 0 -3.7 0ZM401.8 84.5a1.85 1.85 0 1 0 3.7 0a1.85 1.85 0 1 0 -3.7 0ZM377.7 90.9a1.85 1.85 0 1 0 3.7 0a1.85 1.85 0 1 0 -3.7 0ZM429.1 146.4a1.85 1.85 0 1 0 3.7 0a1.85 1.85 0 1 0 -3.7 0ZM393.6 132.2a1.85 1.85 0 1 0 3.7 0a1.85 1.85 0 1 0 -3.7 0ZM374.3 90.9a1.85 1.85 0 1 0 3.7 0a1.85 1.85 0 1 0 -3.7 0ZM385.7 69.7a1.85 1.85 0 1 0 3.7 0a1.85 1.85 0 1 0 -3.7 0ZM439.1 51.8a1.85 1.85 0 1 0 3.7 0a1.85 1.85 0 1 0 -3.7 0ZM429.9 64.5a1.85 1.85 0 1 0 3.7 0a1.85 1.85 0 1 0 -3.7 0ZM361.4 89.2a1.85 1.85 0 1 0 3.7 0a1.85 1.85 0 1 0 -3.7 0ZM434.5 74.5a1.85 1.85 0 1 0 3.7 0a1.85 1.85 0 1 0 -3.7 0ZM512.6 196.6a1.85 1.85 0 1 0 3.7 0a1.85 1.85 0 1 0 -3.7 0Z"/>
<path fill="#ee2d1b" d="M344.5 108.7L347.0 104.3L349.4 108.7ZM338.3 107.9L340.7 103.5L343.2 107.9ZM349.3 97.9L351.8 93.5L354.2 97.9ZM355.9 94.7L358.3 90.3L360.8 94.7ZM344.1 101.9L346.6 97.4L349.0 101.9ZM355.1 99.6L357.5 95.2L360.0 99.6ZM346.1 102.5L348.5 98.1L351.0 102.5ZM347.8 103.0L350.3 98.6L352.7 103.0ZM364.5 97.3L367.0 92.9L369.4 97.3ZM365.6 94.4L368.0 90.0L370.5 94.4ZM367.1 92.2L369.6 87.8L372.0 92.2ZM480.2 45.4L482.7 41.0L485.1 45.4ZM371.7 84.0L374.2 79.6L376.6 84.0ZM410.2 118.2L412.7 113.8L415.1 118.2ZM356.0 104.1L358.5 99.7L360.9 104.1ZM346.8 100.4L349.3 96.0L351.7 100.4ZM336.9 109.4L339.3 105.0L341.8 109.4ZM395.6 90.1L398.0 85.7L400.5 90.1ZM344.0 105.7L346.4 101.3L348.9 105.7ZM353.9 97.1L356.4 92.7L358.8 97.1ZM352.1 124.8L354.5 120.4L356.9 124.8ZM343.0 105.0L345.4 100.6L347.9 105.0ZM340.6 107.6L343.0 103.2L345.5 107.6ZM337.7 110.5L340.2 106.1L342.6 110.5ZM372.1 82.0L374.6 77.5L377.0 82.0ZM478.6 100.3L481.0 95.9L483.4 100.3ZM368.7 97.1L371.2 92.7L373.6 97.1ZM371.5 94.7L373.9 90.3L376.4 94.7ZM369.7 99.0L372.2 94.6L374.6 99.0ZM345.6 104.9L348.0 100.5L350.5 104.9ZM352.0 104.1L354.5 99.7L356.9 104.1ZM347.2 106.5L349.6 102.1L352.1 106.5ZM417.6 61.8L420.0 57.4L422.4 61.8ZM350.4 96.9L352.8 92.4L355.3 96.9ZM336.5 109.5L338.9 105.1L341.4 109.5ZM349.3 105.5L351.8 101.1L354.2 105.5ZM361.3 93.8L363.7 89.4L366.2 93.8ZM470.2 116.3L472.7 111.9L475.1 116.3ZM495.6 224.4L498.0 220.0L500.4 224.4ZM377.1 91.0L379.6 86.6L382.0 91.0ZM360.0 95.1L362.5 90.7L364.9 95.1ZM355.9 94.9L358.3 90.5L360.8 94.9ZM463.1 73.6L465.5 69.2L467.9 73.6ZM348.3 97.3L350.7 92.9L353.2 97.3ZM348.1 105.5L350.6 101.1L353.0 105.5ZM359.9 89.1L362.4 84.7L364.8 89.1ZM370.6 89.0L373.1 84.6L375.5 89.0ZM363.9 98.0L366.3 93.6L368.8 98.0ZM377.7 89.1L380.2 84.7L382.6 89.1ZM359.4 91.3L361.8 86.9L364.3 91.3ZM483.1 68.2L485.5 63.8L487.9 68.2ZM388.1 69.8L390.5 65.4L393.0 69.8ZM365.0 96.5L367.4 92.1L369.9 96.5ZM362.1 89.5L364.5 85.1L367.0 89.5ZM461.2 74.5L463.6 70.1L466.1 74.5ZM343.4 105.7L345.9 101.3L348.3 105.7ZM339.0 108.8L341.4 104.4L343.9 108.8ZM357.1 98.9L359.5 94.5L362.0 98.9ZM357.6 102.4L360.1 98.0L362.5 102.4ZM373.4 81.4L375.8 77.0L378.3 81.4ZM412.7 63.1L415.2 58.7L417.6 63.1ZM508.6 216.6L511.0 212.2L513.5 216.6ZM360.8 100.1L363.3 95.7L365.7 100.1ZM345.6 104.3L348.1 99.9L350.5 104.3ZM351.0 98.2L353.5 93.7L355.9 98.2ZM354.9 96.7L357.3 92.3L359.8 96.7ZM349.3 103.5L351.7 99.0L354.2 103.5ZM359.9 88.2L362.4 83.7L364.8 88.2ZM366.1 90.3L368.5 85.9L371.0 90.3ZM364.4 85.9L366.9 81.5L369.3 85.9ZM355.4 99.7L357.9 95.3L360.3 99.7ZM362.4 92.5L364.9 88.1L367.3 92.5ZM369.1 91.7L371.6 87.2L374.0 91.7ZM359.9 94.8L362.3 90.4L364.8 94.8ZM369.4 81.8L371.9 77.4L374.3 81.8ZM358.9 101.5L361.4 97.1L363.8 101.5ZM335.6 112.2L338.1 107.8L340.5 112.2ZM356.3 96.2L358.8 91.8L361.2 96.2ZM346.6 99.7L349.1 95.3L351.5 99.7ZM387.2 83.1L389.7 78.7L392.1 83.1ZM345.5 102.5L348.0 98.1L350.4 102.5ZM469.6 49.4L472.0 45.0L474.4 49.4ZM355.4 94.6L357.9 90.2L360.3 94.6ZM349.6 103.0L352.0 98.6L354.5 103.0ZM363.1 90.6L365.6 86.2L368.0 90.6ZM409.5 74.5L412.0 70.1L414.4 74.5ZM347.8 99.7L350.2 95.3L352.7 99.7ZM341.3 104.4L343.7 100.0L346.2 104.4ZM349.5 96.8L352.0 92.4L354.4 96.8ZM393.2 76.3L395.6 71.9L398.1 76.3ZM346.5 101.5L349.0 97.1L351.4 101.5ZM369.6 94.3L372.0 89.9L374.5 94.3ZM361.8 95.0L364.3 90.6L366.7 95.0ZM356.5 93.0L358.9 88.6L361.4 93.0ZM336.3 110.6L338.8 106.2L341.2 110.6ZM367.6 94.6L370.1 90.1L372.5 94.6ZM474.9 196.5L477.4 192.1L479.8 196.5ZM335.1 112.5L337.5 108.1L340.0 112.5ZM344.4 107.8L346.9 103.4L349.3 107.8ZM359.7 102.6L362.1 98.2L364.6 102.6ZM348.7 99.4L351.2 95.0L353.6 99.4ZM347.0 100.6L349.4 96.2L351.9 100.6ZM356.4 92.9L358.9 88.5L361.3 92.9ZM347.7 104.0L350.1 99.6L352.6 104.0ZM347.5 106.4L349.9 102.0L352.4 106.4ZM474.1 57.4L476.5 53.0L478.9 57.4ZM350.2 99.6L352.6 95.2L355.1 99.6ZM369.6 94.8L372.1 90.4L374.5 94.8ZM349.7 102.2L352.1 97.8L354.6 102.2ZM345.9 99.9L348.3 95.5L350.8 99.9ZM358.4 99.5L360.8 95.1L363.3 99.5ZM367.8 99.4L370.3 95.0L372.7 99.4ZM511.2 45.8L513.6 41.4L516.1 45.8Z"/>
<path fill="#000" d="M376.7 94.4a1.85 1.85 0 1 0 3.7 0a1.85 1.85 0 1 0 -3.7 0ZM381.6 90.6a1.85 1.85 0 1 0 3.7 0a1.85 1.85 0 1 0 -3.7 0ZM370.9 80.8a1.85 1.85 0 1 0 3.7 0a1.85 1.85 0 1 0 -3.7 0ZM410.8 88.7a1.85 1.85 0 1 0 3.7 0a1.85 1.85 0 1 0 -3.7 0ZM363.4 86.8a1.85 1.85 0 1 0 3.7 0a1.85 1.85 0 1 0 -3.7 0ZM363.0 95.2a1.85 1.85 0 1 0 3.7 0a1.85 1.85 0 1 0 -3.7 0ZM509.1 215.5a1.85 1.85 0 1 0 3.7 0a1.85 1.85 0 1 0 -3.7 0ZM504.9 38.5a1.85 1.85 0 1 0 3.7 0a1.85 1.85 0 1 0 -3.7 0ZM419.9 82.7a1.85 1.85 0 1 0 3.7 0a1.85 1.85 0 1 0 -3.7 0ZM373.8 86.0a1.85 1.85 0 1 0 3.7 0a1.85 1.85 0 1 0 -3.7 0ZM427.1 89.0a1.85 1.85 0 1 0 3.7 0a1.85 1.85 0 1 0 -3.7 0ZM516.1 35.0a1.85 1.85 0 1 0 3.7 0a1.85 1.85 0 1 0 -3.7 0ZM353.8 103.1a1.85 1.85 0 1 0 3.7 0a1.85 1.85 0 1 0 -3.7 0ZM394.1 88.0a1.85 1.85 0 1 0 3.7 0a1.85 1.85 0 1 0 -3.7 0ZM455.1 43.0a1.85 1.85 0 1 0 3.7 0a1.85 1.85 0 1 0 -3.7 0ZM397.1 99.0a1.85 1.85 0 1 0 3.7 0a1.85 1.85 0 1 0 -3.7 0ZM364.6 89.4a1.85 1.85 0 1 0 3.7 0a1.85 1.85 0 1 0 -3.7 0ZM483.1 77.3a1.85 1.85 0 1 0 3.7 0a1.85 1.85 0 1 0 -3.7 0ZM500.8 203.3a1.85 1.85 0 1 0 3.7 0a1.85 1.85 0 1 0 -3.7 0ZM387.7 84.9a1.85 1.85 0 1 0 3.7 0a1.85 1.85 0 1 0 -3.7 0ZM404.5 61.8a1.85 1.85 0 1 0 3.7 0a1.85 1.85 0 1 0 -3.7 0ZM431.1 53.5a1.85 1.85 0 1 0 3.7 0a1.85 1.85 0 1 0 -3.7 0ZM387.9 84.9a1.85 1.85 0 1 0 3.7 0a1.85 1.85 0 1 0 -3.7 0ZM398.3 64.5a1.85 1.85 0 1 0 3.7 0a1.85 1.85 0 1 0 -3.7 0ZM371.9 97.1a1.85 1.85 0 1 0 3.7 0a1.85 1.85 0 1 0 -3.7 0ZM415.4 100.4a1.85 1.85 0 1 0 3.7 0a1.85 1.85 0 1 0 -3.7 0ZM339.2 110.5a1.85 1.85 0 1 0 3.7 0a1.85 1.85 0 1 0 -3.7 0ZM419.1 89.0a1.85 1.85 0 1 0 3.7 0a1.85 1.85 0 1 0 -3.7 0ZM396.4 89.1a1.85 1.85 0 1 0 3.7 0a1.85 1.85 0 1 0 -3.7 0ZM384.3 73.6a1.85 1.85 0 1 0 3.7 0a1.85 1.85 0 1 0 -3.7 0ZM353.5 101.5a1.85 1.85 0 1 0 3.7 0a1.85 1.85 0 1 0 -3.7 0ZM385.6 90.9a1.85 1.85 0 1 0 3.7 0a1.85 1.85 0 1 0 -3.7 0ZM390.8 77.7a1.85 1.85 0 1 0 3.7 0a1.85 1.85 0 1 0 -3.7 0ZM401.0 86.4a1.85 1.85 0 1 0 3.7 0a1.85 1.85 0 1 0 -3.7 0Z"/>
<path fill="#ee2d1b" d="M366.4 99.4L368.8 95.0L371.3 99.4ZM385.7 71.8L388.2 67.4L390.6 71.8ZM350.5 101.6L353.0 97.2L355.4 101.6ZM360.3 94.1L362.7 89.7L365.2 94.1ZM335.6 113.0L338.1 108.6L340.5 113.0ZM335.8 112.2L338.3 107.8L340.7 112.2ZM335.7 110.3L338.1 105.9L340.6 110.3ZM367.4 90.0L369.9 85.6L372.3 90.0ZM360.8 91.9L363.3 87.5L365.7 91.9ZM339.8 109.2L342.2 104.8L344.7 109.2ZM431.2 92.8L433.6 88.4L436.1 92.8ZM395.0 66.6L397.5 62.2L399.9 66.6ZM343.3 105.3L345.7 100.9L348.2 105.3ZM340.2 108.9L342.7 104.5L345.1 108.9ZM384.6 76.4L387.1 72.0L389.5 76.4ZM336.7 110.2L339.1 105.8L341.6 110.2ZM347.1 102.3L349.6 97.8L352.0 102.3ZM335.8 113.9L338.3 109.4L340.7 113.9ZM427.6 92.8L430.0 88.4L432.4 92.8ZM348.8 96.9L351.3 92.5L353.7 96.9ZM362.8 94.0L365.2 89.6L367.7 94.0ZM464.9 111.8L467.3 107.4L469.8 111.8ZM354.4 100.3L356.8 95.9L359.3 100.3ZM353.8 98.3L356.3 93.9L358.7 98.3ZM441.2 74.5L443.6 70.1L446.1 74.5ZM348.1 106.1L350.5 101.7L353.0 106.1ZM346.0 100.7L348.5 96.3L350.9 100.7ZM343.3 106.4L345.7 102.0L348.2 106.4ZM386.4 95.1L388.9 90.7L391.3 95.1ZM357.3 96.0L359.7 91.6L362.2 96.0ZM473.9 57.8L476.4 53.4L478.8 57.8ZM374.8 94.5L377.3 90.1L379.7 94.5ZM496.6 43.6L499.0 39.2L501.4 43.6ZM345.0 105.0L347.4 100.6L349.9 105.0ZM357.2 92.6L359.7 88.2L362.1 92.6ZM353.8 97.3L356.3 92.9L358.7 97.3ZM415.8 134.5L418.2 130.1L420.6 134.5ZM478.6 58.8L481.0 54.4L483.4 58.8ZM384.4 90.8L386.8 86.4L389.3 90.8ZM358.2 97.1L360.7 92.7L363.1 97.1ZM351.5 100.3L353.9 95.9L356.4 100.3ZM380.8 89.7L383.3 85.3L385.7 89.7ZM365.1 85.7L367.6 81.3L370.0 85.7ZM394.6 87.8L397.0 83.4L399.4 87.8ZM368.4 97.9L370.9 93.5L373.3 97.9ZM400.2 80.0L402.7 75.6L405.1 80.0ZM349.5 106.6L352.0 102.2L354.4 106.6ZM349.5 104.0L352.0 99.6L354.4 104.0ZM483.6 68.3L486.0 63.9L488.4 68.3ZM459.4 70.8L461.8 66.4L464.2 70.8ZM359.8 97.2L362.3 92.8L364.7 97.2ZM342.9 103.6L345.3 99.2L347.8 103.6ZM360.0 90.0L362.5 85.6L364.9 90.0ZM363.2 87.0L365.7 82.6L368.1 87.0ZM373.4 89.9L375.8 85.5L378.3 89.9ZM370.1 82.6L372.6 78.2L375.0 82.6ZM348.0 106.6L350.5 102.2L352.9 106.6ZM506.1 42.2L508.5 37.8L510.9 42.2ZM369.3 82.2L371.8 77.8L374.2 82.2ZM353.4 92.8L355.8 88.4L358.3 92.8ZM472.1 70.8L474.5 66.4L476.9 70.8ZM336.6 109.8L339.1 105.4L341.5 109.8ZM354.6 96.6L357.1 92.2L359.5 96.6ZM342.8 102.9L345.2 98.5L347.7 102.9ZM389.4 110.3L391.8 105.9L394.2 110.3ZM492.8 203.2L495.2 198.8L497.6 203.2ZM345.6 103.5L348.0 99.1L350.5 103.5ZM344.9 109.1L347.4 104.7L349.8 109.1ZM408.7 91.4L411.1 87.0L413.6 91.4ZM335.8 110.9L338.3 106.5L340.7 110.9ZM383.4 77.3L385.9 72.9L388.3 77.3ZM364.6 84.7L367.0 80.3L369.5 84.7ZM481.6 138.2L484.0 133.8L486.4 138.2ZM488.6 43.6L491.0 39.2L493.4 43.6ZM380.9 79.4L383.3 75.0L385.8 79.4ZM513.3 43.6L515.8 39.2L518.2 43.6ZM394.5 94.0L397.0 89.5L399.4 94.0ZM381.8 88.1L384.2 83.7L386.7 88.1ZM378.0 81.9L380.4 77.4L382.9 81.9ZM370.8 92.1L373.2 87.7L375.7 92.1ZM376.7 76.5L379.2 72.1L381.6 76.5ZM345.0 104.4L347.5 100.0L349.9 104.4ZM342.2 104.6L344.6 100.2L347.1 104.6ZM344.2 104.4L346.7 100.0L349.1 104.4ZM348.5 99.4L350.9 94.9L353.4 99.4ZM462.1 93.6L464.5 89.2L466.9 93.6ZM360.3 90.4L362.7 85.9L365.2 90.4ZM351.0 97.9L353.4 93.5L355.9 97.9ZM351.8 96.6L354.3 92.2L356.7 96.6ZM359.4 94.7L361.9 90.3L364.3 94.7ZM360.8 88.7L363.3 84.3L365.7 88.7ZM431.2 73.6L433.6 69.2L436.1 73.6ZM347.2 107.6L349.6 103.2L352.1 107.6ZM354.9 103.8L357.3 99.4L359.8 103.8ZM357.9 92.9L360.3 88.5L362.8 92.9ZM392.6 79.2L395.0 74.8L397.5 79.2ZM402.1 72.8L404.5 68.4L406.9 72.8ZM371.3 81.4L373.8 77.0L376.2 81.4ZM454.9 147.8L457.3 143.4L459.8 147.8ZM445.8 146.0L448.2 141.6L450.6 146.0ZM488.9 187.8L491.4 183.4L493.8 187.8ZM503.9 215.0L506.3 210.6L508.8 215.0ZM415.8 137.3L418.2 132.9L420.6 137.3Z"/>
<circle cx="393.3" cy="97.1" r="4" fill="none" stroke="#000" stroke-width="1.4"/>
<path d="M390.5 99.4L393.3 94L396.1 99.4Z" fill="none" stroke="#ee2d1b" stroke-width="1.1"/>
<circle cx="331" cy="180.4" r="1.9" fill="#000"/>
<path d="M328.9 195.4L331.0 191.6L333.1 195.4Z" fill="#ee2d1b"/>
<text x="337.5" y="183.8" class="sm" style="font-size:9.85px">High <tspan font-style="italic">DUOX2</tspan></text>
<text x="337.5" y="196.4" class="sm" style="font-size:9.85px">Low <tspan font-style="italic">DUOX2</tspan></text>
<text x="314.8" y="219" class="sm" style="font-size:7.75px">F = 5.47, R<tspan style="font-size:5px" dy="-2.8">2</tspan><tspan dy="2.8"> = 0.01, p = 0.0007</tspan></text>
</g>
<g id="panelC">
<text x="22" y="286" style="font-size:23.5px" font-weight="bold" class="lbl" textLength="14.3" lengthAdjust="spacingAndGlyphs">C</text>
<defs><linearGradient id="vir" x1="0" y1="1" x2="0" y2="0">
<stop offset="0.0" stop-color="#431a5b"/>
<stop offset="0.1" stop-color="#482475"/>
<stop offset="0.2" stop-color="#414487"/>
<stop offset="0.3" stop-color="#355f8d"/>
<stop offset="0.4" stop-color="#2a788e"/>
<stop offset="0.5" stop-color="#21918c"/>
<stop offset="0.6" stop-color="#22a884"/>
<stop offset="0.7" stop-color="#44bf70"/>
<stop offset="0.8" stop-color="#7ad151"/>
<stop offset="0.9" stop-color="#bddf26"/>
<stop offset="1.0" stop-color="#fde725"/>
</linearGradient></defs>
<circle cx="474.7" cy="298.3" r="4.1" fill="#44195e"/>
<circle cx="419.1" cy="314.9" r="9.0" fill="#44195e"/>
<circle cx="419.1" cy="331.4" r="9.0" fill="#44195e"/>
<circle cx="377.6" cy="348.0" r="8.45" fill="#dada3a"/>
<circle cx="363.5" cy="364.5" r="7.5" fill="#44195e"/>
<circle cx="362.2" cy="381.1" r="7.8" fill="#44195e"/>
<circle cx="362.1" cy="397.6" r="7.85" fill="#44195e"/>
<circle cx="361.9" cy="414.2" r="2.2" fill="#44195e"/>
<circle cx="359.6" cy="430.7" r="6.9" fill="#3f4f82"/>
<circle cx="359.6" cy="447.3" r="4.3" fill="#44195e"/>
<circle cx="359.3" cy="463.8" r="4.2" fill="#44195e"/>
<circle cx="359.0" cy="480.4" r="7.85" fill="#2b8a8a"/>
<circle cx="357.5" cy="496.9" r="3.6" fill="#463f7f"/>
<circle cx="353.9" cy="513.5" r="5.6" fill="#433f80"/>
<circle cx="353.8" cy="530.0" r="5.5" fill="#414681"/>
<circle cx="352.1" cy="546.6" r="5.7" fill="#2b8689"/>
<circle cx="348.7" cy="563.1" r="7.3" fill="#3e5c8c"/>
<circle cx="344.1" cy="579.7" r="4.7" fill="#44195e"/>
<circle cx="343.5" cy="596.2" r="4.2" fill="#44195e"/>
<circle cx="342.7" cy="612.8" r="7.3" fill="#72c070"/>
<circle cx="330.9" cy="629.3" r="5.6" fill="#2b8a8c"/>
<circle cx="329.5" cy="645.9" r="7.3" fill="#44195e"/>
<circle cx="324.5" cy="662.4" r="7.7" fill="#44195e"/>
<circle cx="302.3" cy="679.0" r="6.3" fill="#44195e"/>
<circle cx="300.5" cy="695.5" r="8.0" fill="#44195e"/>
<circle cx="298.1" cy="712.1" r="9.1" fill="#472c70"/>
<circle cx="294.1" cy="728.6" r="6.2" fill="#44195e"/>
<circle cx="293.5" cy="745.2" r="5.9" fill="#44195e"/>
<circle cx="291.9" cy="761.7" r="9.4" fill="#7cc56b"/>
<circle cx="270.0" cy="778.3" r="9.0" fill="#44195e"/>
<path d="M353.6 296.5V788" stroke="#ff3218" stroke-width="1.7" stroke-linecap="round" stroke-dasharray="0.01 5.7" fill="none"/>
<path d="M259.75 288V787.9H485" fill="none" stroke="#000" stroke-width="2.1" stroke-linejoin="round"/>
<path d="M256 298.7H259" stroke="#222" stroke-width="0.9"/>
<text x="252.6" y="302.8" text-anchor="end" class="rw">s_Bacteroides_dorei</text>
<path d="M256 315.3H259" stroke="#222" stroke-width="0.9"/>
<text x="252.6" y="319.4" text-anchor="end" class="rw">g_Lachnospiraceae_unclassified</text>
<path d="M256 331.8H259" stroke="#222" stroke-width="0.9"/>
<text x="252.6" y="335.9" text-anchor="end" class="rw">s_Eubacterium_rectale</text>
<path d="M256 348.4H259" stroke="#222" stroke-width="0.9"/>
<text x="252.6" y="352.5" text-anchor="end" class="rw">s_Bacteroides_caccae</text>
<path d="M256 364.9H259" stroke="#222" stroke-width="0.9"/>
<text x="252.6" y="369.0" text-anchor="end" class="rw">s_Roseburia_inulinivorans</text>
<path d="M256 381.5H259" stroke="#222" stroke-width="0.9"/>
<text x="252.6" y="385.6" text-anchor="end" class="rw">s_Fusicatenibacter_saccharivorans</text>
<path d="M256 398.0H259" stroke="#222" stroke-width="0.9"/>
<text x="252.6" y="402.1" text-anchor="end" class="rw">g_Fusicatenibacter</text>
<path d="M256 414.6H259" stroke="#222" stroke-width="0.9"/>
<text x="252.6" y="418.7" text-anchor="end" class="rw">s_Ruminococcus_bicirculans</text>
<path d="M256 431.1H259" stroke="#222" stroke-width="0.9"/>
<text x="252.6" y="435.2" text-anchor="end" class="rw">s_Collinsella_aerofaciens</text>
<path d="M256 447.7H259" stroke="#222" stroke-width="0.9"/>
<text x="252.6" y="451.8" text-anchor="end" class="rw">s_Intestinimonas_butyriciproducens</text>
<path d="M256 464.2H259" stroke="#222" stroke-width="0.9"/>
<text x="252.6" y="468.3" text-anchor="end" class="rw">g_Intestinimonas</text>
<path d="M256 480.8H259" stroke="#222" stroke-width="0.9"/>
<text x="252.6" y="484.9" text-anchor="end" class="rw">g_Collinsella</text>
<path d="M256 497.3H259" stroke="#222" stroke-width="0.9"/>
<text x="252.6" y="501.4" text-anchor="end" class="rw">s_Eubacterium_sp_CAG_38</text>
<path d="M256 513.9H259" stroke="#222" stroke-width="0.9"/>
<text x="252.6" y="518.0" text-anchor="end" class="rw">s_Agathobaculum_butyriciproducens</text>
<path d="M256 530.4H259" stroke="#222" stroke-width="0.9"/>
<text x="252.6" y="534.5" text-anchor="end" class="rw">g_Agathobaculum</text>
<path d="M256 547.0H259" stroke="#222" stroke-width="0.9"/>
<text x="252.6" y="551.1" text-anchor="end" class="rw">s_Eubacterium_hallii</text>
<path d="M256 563.5H259" stroke="#222" stroke-width="0.9"/>
<text x="252.6" y="567.6" text-anchor="end" class="rw">s_Clostridium_bolteae</text>
<path d="M256 580.1H259" stroke="#222" stroke-width="0.9"/>
<text x="252.6" y="584.2" text-anchor="end" class="rw">g_Oscillibacter</text>
<path d="M256 596.6H259" stroke="#222" stroke-width="0.9"/>
<text x="252.6" y="600.7" text-anchor="end" class="rw">s_Oscillibacter_sp_57_20</text>
<path d="M256 613.2H259" stroke="#222" stroke-width="0.9"/>
<text x="252.6" y="617.3" text-anchor="end" class="rw">s_Ruminococcus_gnavus</text>
<path d="M256 629.7H259" stroke="#222" stroke-width="0.9"/>
<text x="252.6" y="633.8" text-anchor="end" class="rw">g_Veillonella</text>
<path d="M256 646.3H259" stroke="#222" stroke-width="0.9"/>
<text x="252.6" y="650.4" text-anchor="end" class="rw">s_Bacteroides_xylanisolvens</text>
<path d="M256 662.8H259" stroke="#222" stroke-width="0.9"/>
<text x="252.6" y="666.9" text-anchor="end" class="rw">s_Parabacteroides_merdae</text>
<path d="M256 679.4H259" stroke="#222" stroke-width="0.9"/>
<text x="252.6" y="683.5" text-anchor="end" class="rw">s_Alistipes_finegoldii</text>
<path d="M256 695.9H259" stroke="#222" stroke-width="0.9"/>
<text x="252.6" y="700.0" text-anchor="end" class="rw">g_Alistipes</text>
<path d="M256 712.5H259" stroke="#222" stroke-width="0.9"/>
<text x="252.6" y="716.6" text-anchor="end" class="rw">s_Parabacteroides_distasonis</text>
<path d="M256 729.0H259" stroke="#222" stroke-width="0.9"/>
<text x="252.6" y="733.1" text-anchor="end" class="rw">g_Escherichia</text>
<path d="M256 745.6H259" stroke="#222" stroke-width="0.9"/>
<text x="252.6" y="749.7" text-anchor="end" class="rw">s_Escherichia_coli</text>
<path d="M256 762.1H259" stroke="#222" stroke-width="0.9"/>
<text x="252.6" y="766.2" text-anchor="end" class="rw">s_Bacteroides_uniformis</text>
<path d="M256 778.7H259" stroke="#222" stroke-width="0.9"/>
<text x="252.6" y="782.8" text-anchor="end" class="rw">g_Parabacteroides</text>
<text x="285.8" y="804.6" text-anchor="middle" class="tk" style="font-size:15px">−2</text>
<text x="353.8" y="804.6" text-anchor="middle" class="tk" style="font-size:15px">0</text>
<text x="421.6" y="804.6" text-anchor="middle" class="tk" style="font-size:15px">2</text>
<text x="355" y="822.2" text-anchor="middle" class="tk" style="font-size:16.2px">High <tspan font-style="italic">DUOX2</tspan> &lt;−−&gt; Low <tspan font-style="italic">DUOX2</tspan></text>
<text x="354" y="842" text-anchor="middle" class="tk" style="font-size:16px">Effect Size</text>
<text x="462.3" y="420.6" class="tk" style="font-size:12.45px">FDR</text>
<rect x="462" y="430.6" width="23" height="115" fill="url(#vir)"/>
<path d="M462 459.4h4.4M485 459.4h-4.4" stroke="#fff" stroke-width="0.8" opacity="0.8"/>
<path d="M462 488.2h4.4M485 488.2h-4.4" stroke="#fff" stroke-width="0.8" opacity="0.8"/>
<path d="M462 517h4.4M485 517h-4.4" stroke="#fff" stroke-width="0.8" opacity="0.8"/>
<text x="489" y="436.1" class="sm" style="font-size:12.4px" fill="#111">0.100</text>
<text x="489" y="464.7" class="sm" style="font-size:12.4px" fill="#111">0.075</text>
<text x="489" y="493.5" class="sm" style="font-size:12.4px" fill="#111">0.050</text>
<text x="489" y="522.2" class="sm" style="font-size:12.4px" fill="#111">0.025</text>
<text x="489" y="551.1" class="sm" style="font-size:12.4px" fill="#111">0.000</text>
<text x="462.3" y="598.6" class="tk" style="font-size:12.45px">N.not.0</text>
<circle cx="473.4" cy="611" r="6" fill="#000"/>
<text x="486.4" y="616.0" class="sm" style="font-size:12.4px" fill="#111">300</text>
<circle cx="473.4" cy="634" r="7.5" fill="#000"/>
<text x="486.4" y="639.0" class="sm" style="font-size:12.4px" fill="#111">400</text>
<circle cx="473.4" cy="657.4" r="8.8" fill="#000"/>
<text x="486.4" y="662.4" class="sm" style="font-size:12.4px" fill="#111">500</text>
</g>
</svg>
</body></html>
